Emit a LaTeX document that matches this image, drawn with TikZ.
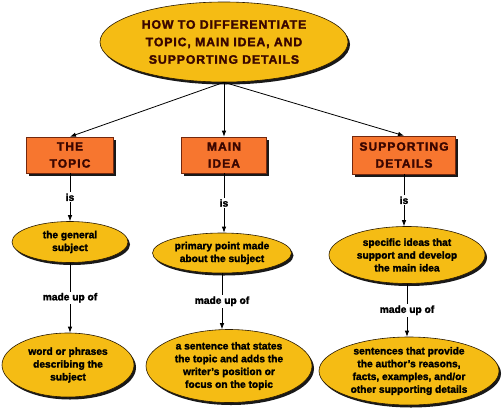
\documentclass[tikz,border=0pt]{standalone}
\usepackage{fontspec}
\setmainfont{Liberation Sans}[BoldFeatures={FakeBold=2}]
\usetikzlibrary{shapes.geometric,arrows.meta,shadows}
\definecolor{ellfill}{HTML}{F5BC14}
\definecolor{boxfill}{HTML}{F7762F}
\definecolor{boxtext}{HTML}{3A0600}
\definecolor{edgecol}{HTML}{2A1A00}
\tikzset{
  shad/.style={drop shadow={shadow xshift=2pt,shadow yshift=-2.5pt,fill=black,opacity=0.9}},
  oval/.style={ellipse,draw=edgecol,line width=0.6pt,fill=ellfill,shad,inner sep=0pt,align=center,
    font=\fontsize{10.2}{12.8}\selectfont\bfseries,text=black},
  titleoval/.style={oval,font=\fontsize{12.3}{17.5}\selectfont\bfseries\addfontfeature{LetterSpace=7},text=boxtext},
  catbox/.style={rectangle,draw=boxtext!70!boxfill,line width=0.6pt,fill=boxfill,shad,inner sep=0pt,align=center,
    font=\fontsize{12}{17}\selectfont\bfseries\addfontfeature{LetterSpace=9},text=boxtext},
  link/.style={draw=black,line width=0.8pt,-{Latex[length=6pt,width=4.5pt]}},
  lbl/.style={fill=white,inner sep=1.5pt,font=\fontsize{10.2}{11}\selectfont\bfseries,text=black}
}
\begin{document}
\begin{tikzpicture}[x=1pt,y=-1pt]
\useasboundingbox (0,0) rectangle (502,415);
\node[titleoval,minimum width=248pt,minimum height=80pt] (title) at (224,42)
  {HOW TO DIFFERENTIATE\\TOPIC, MAIN IDEA, AND\\SUPPORTING DETAILS};
\node[catbox,minimum width=87pt,minimum height=36pt] (b1) at (70,155) {THE\\TOPIC};
\node[catbox,minimum width=85pt,minimum height=36pt] (b2) at (224,155) {MAIN\\IDEA};
\node[catbox,minimum width=103pt,minimum height=38pt] (b3) at (404,155) {SUPPORTING\\DETAILS};
\node[oval,minimum width=116pt,minimum height=41pt] (e1) at (70,242) {the general\\subject};
\node[oval,minimum width=139pt,minimum height=40pt] (e2) at (222,253) {primary point made\\about the subject};
\node[oval,minimum width=156pt,minimum height=57pt] (e3) at (407,255) {specific ideas that\\support and develop\\the main idea};
\node[oval,minimum width=132pt,minimum height=64pt] (f1) at (68,365) {word or phrases\\describing the\\subject};
\node[oval,minimum width=166pt,minimum height=73pt] (f2) at (229,366) {a sentence that states\\the topic and adds the\\writer's position or\\focus on the topic};
\node[oval,minimum width=180pt,minimum height=68pt] (f3) at (409,371) {sentences that provide\\the author's reasons,\\facts, examples, and/or\\other supporting details};
\draw[link] (title.south) -- (b1.north);
\draw[link] (title.south) -- (b2.north);
\draw[link] (title.south) -- (b3.north);
\draw[link] (b1.south) -- node[lbl] (l1) {is} (b1.south |- e1.north);
\draw[link] (b2.south) -- node[lbl] (l2) {is} (b2.south |- e2.north);
\draw[link] (b3.south) -- node[lbl] (l3) {is} (b3.south |- e3.north);
\draw[link] (e1.south) -- node[lbl] (m1) {made up of} (e1.south |- f1.north);
\draw[link] (e2.south) -- node[lbl] (m2) {made up of} (e2.south |- f2.north);
\draw[link] (e3.south) -- node[lbl] (m3) {made up of} (e3.south |- f3.north);
\end{tikzpicture}
\end{document}
